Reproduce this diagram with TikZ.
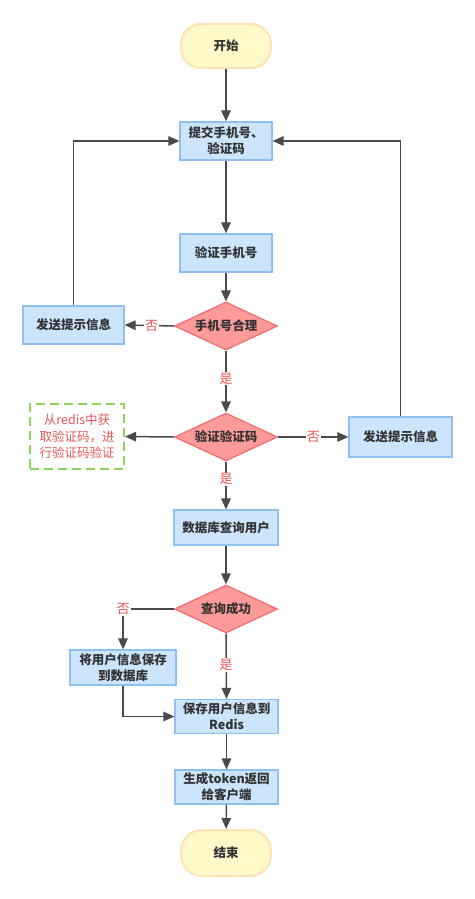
\documentclass[tikz,border=0pt]{standalone}
\usepackage{fontspec}
\setmainfont{Noto Sans CJK SC}
\usetikzlibrary{shapes.geometric,arrows.meta}
\definecolor{boxfill}{HTML}{CCE4FC}
\definecolor{boxline}{HTML}{8FC1F0}
\definecolor{dfill}{HTML}{FF9A9A}
\definecolor{dline}{HTML}{EE6E6E}
\definecolor{pfill}{HTML}{FFF8C9}
\definecolor{pline}{HTML}{FFE3B5}
\definecolor{lnc}{HTML}{4A4A4A}
\definecolor{redt}{HTML}{E85555}
\definecolor{grn}{HTML}{8CD45A}
\definecolor{txt}{HTML}{333333}
\tikzset{
  every node/.style={font=\fontsize{12.5}{15}\selectfont, text=txt},
  procbox/.style={rectangle, draw=boxline, fill=boxfill, line width=1.2pt, minimum width=92pt, minimum height=38pt, align=center, font=\fontsize{12.5}{16}\selectfont\bfseries, inner sep=2pt},
  decide/.style={diamond, draw=dline, fill=dfill, line width=1.2pt, minimum width=103pt, minimum height=48pt, aspect=2.1, inner sep=0pt, font=\fontsize{12.5}{15}\selectfont\bfseries},
  pill/.style={rectangle, rounded corners=20pt, draw=pline, fill=pfill, line width=2pt, minimum width=90pt, minimum height=44pt, font=\fontsize{12.5}{15}\selectfont\bfseries},
  arr/.style={draw=lnc, line width=1.5pt, -{Triangle[length=11pt,width=9.5pt]}},
  lbl/.style={fill=white, text=redt, inner sep=1pt, font=\fontsize{13}{15}\selectfont},
  note/.style={rectangle, draw=grn, dash pattern=on 9pt off 5pt, line width=2.2pt, minimum width=94pt, minimum height=65pt, align=center, text=redt, font=\fontsize{12.5}{16.5}\selectfont}
}
\begin{document}
\begin{tikzpicture}[x=1pt,y=-1pt]
\useasboundingbox (0,0) rectangle (474,899);
\node[pill] (start) at (226,46) {开始};
\node[procbox] (submit) at (226,141) {提交手机号、\\验证码};
\node[procbox] (checkphone) at (226,253) {验证手机号};
\node[decide] (d1) at (226,326) {手机号合理};
\node[procbox, minimum width=101pt] (tipL) at (73.5,325) {发送提示信息};
\node[decide] (d2) at (226,437) {验证验证码};
\node[note] (redis) at (77,436.5) {从redis中获\\取验证码，进\\行验证码验证};
\node[procbox, minimum width=103pt, minimum height=40pt] (tipR) at (400.5,437) {发送提示信息};
\node[procbox, minimum width=104pt, minimum height=35pt] (query) at (226,527.5) {数据库查询用户};
\node[decide] (d3) at (226,609) {查询成功};
\node[procbox, minimum width=106pt, minimum height=35pt] (saveDB) at (123,667.5) {将用户信息保存\\到数据库};
\node[procbox, minimum width=103pt, minimum height=34pt] (saveRedis) at (226.5,716.5) {保存用户信息到\\Redis};
\node[procbox, minimum width=103pt, minimum height=34pt] (token) at (226.5,787) {生成token返回\\给客户端};
\node[pill, minimum height=46pt, rounded corners=21pt] (end) at (226,853) {结束};

\draw[arr] (start) -- (submit);
\draw[arr] (submit) -- (checkphone);
\draw[arr] (checkphone) -- (d1);
\draw[arr] (d1.west) -- node[lbl, pos=0.45]{否} (tipL.east);
\draw[arr] (d1.south) -- node[lbl, pos=0.45]{是} (d2.north);
\draw[arr] (tipL.north) |- (submit.west);
\draw[arr] (tipR.north) |- (submit.east);
\draw[arr] (d2.west) -- (redis.east);
\draw[arr] (d2.east) -- node[lbl, pos=0.5]{否} (tipR.west);
\draw[arr] (d2.south) -- node[lbl, pos=0.37]{是} (query.north);
\draw[arr] (query) -- (d3);
\draw[arr] (d3.west) -| node[lbl, pos=0.5]{否} (saveDB.north);
\draw[arr] (d3.south) -- node[lbl, pos=0.48]{是} (saveRedis.north);
\draw[arr] (saveDB.south) |- (saveRedis.west);
\draw[arr] (saveRedis) -- (token);
\draw[arr] (token) -- (end);
\end{tikzpicture}
\end{document}
